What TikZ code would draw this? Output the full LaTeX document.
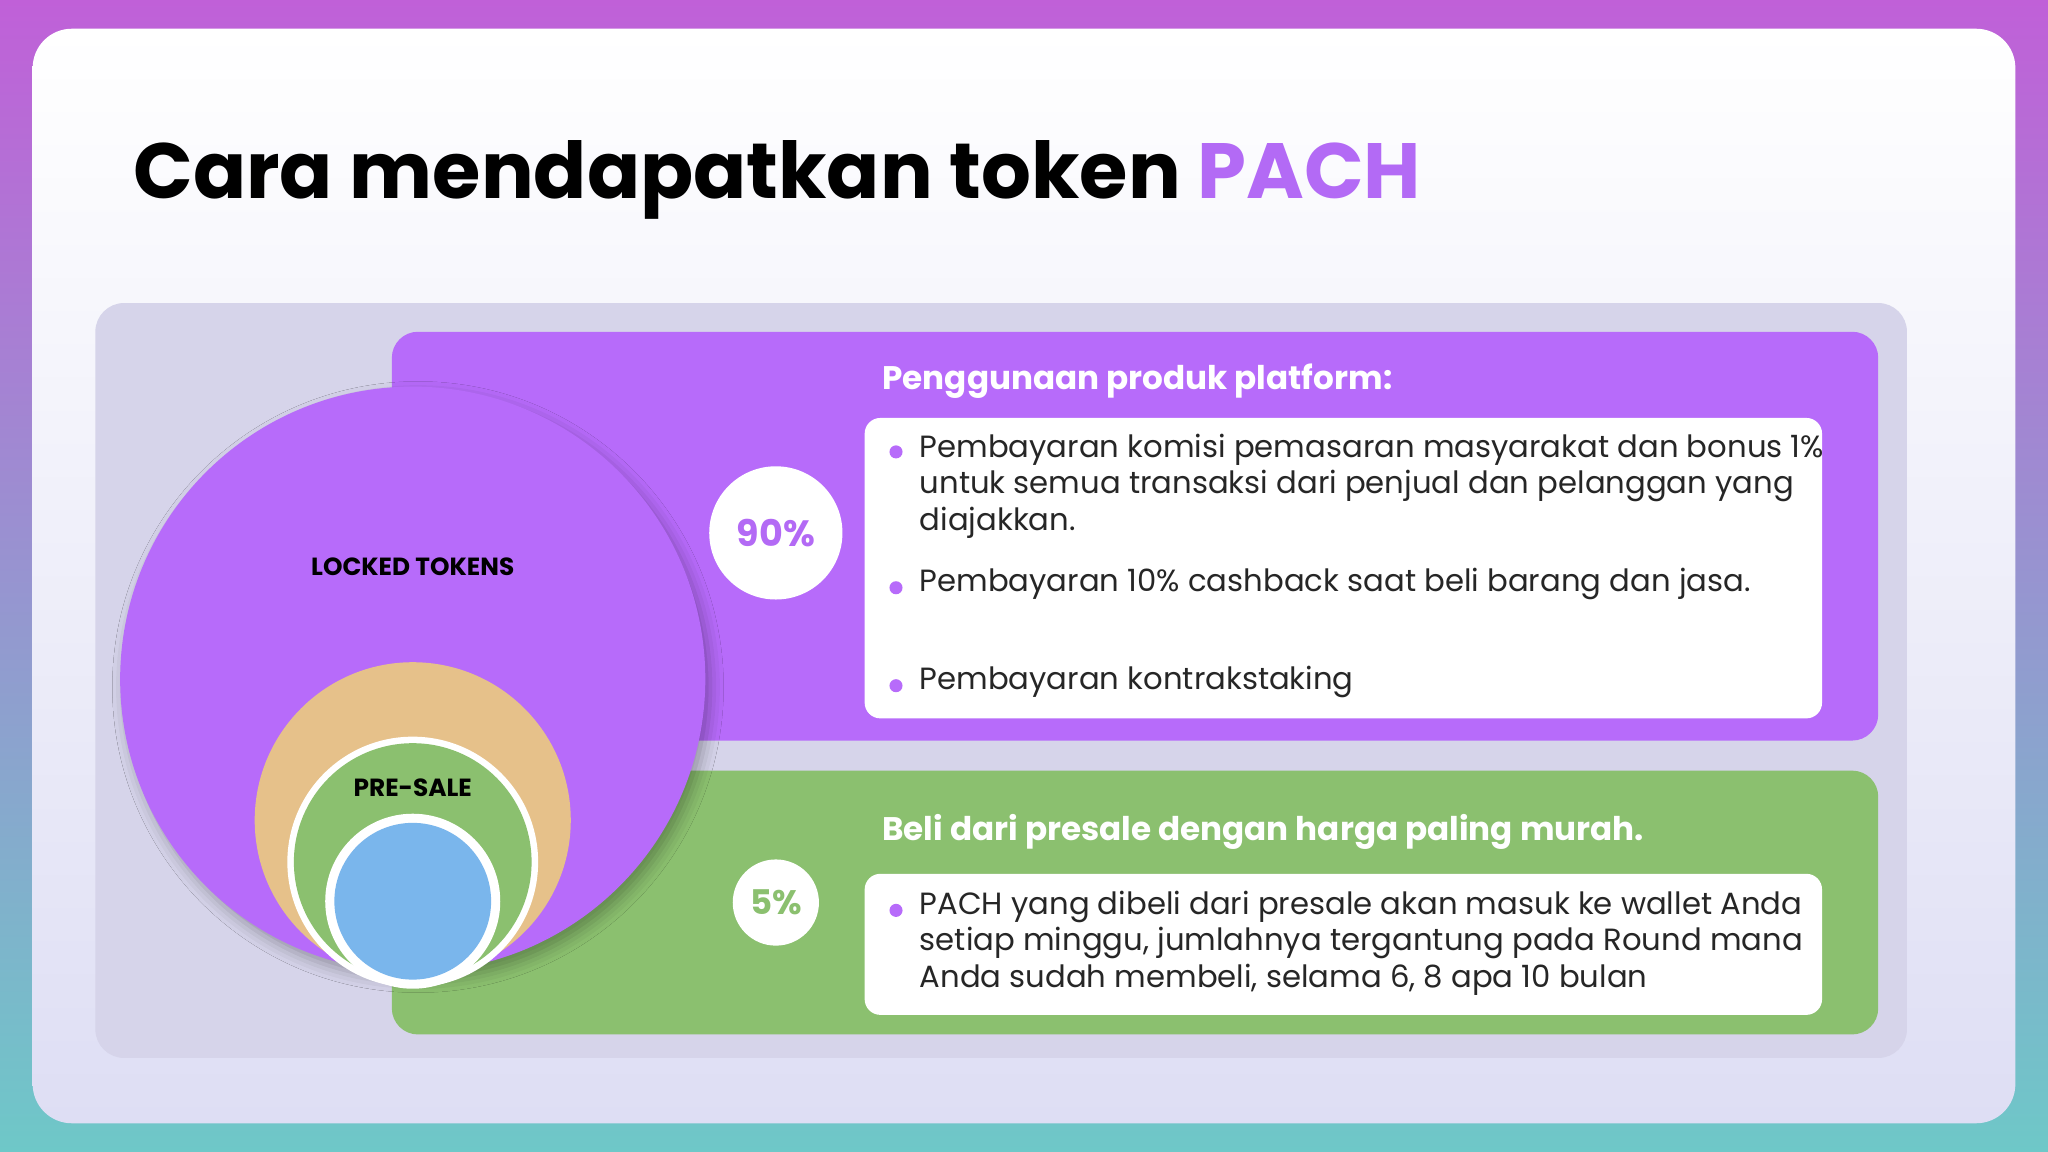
\documentclass[tikz,border=0pt]{standalone}
\usepackage{fontspec}
\setmainfont{Poppins}
\usetikzlibrary{shadows.blur}
\definecolor{pur}{HTML}{B76BFA}
\definecolor{tpur}{HTML}{B36AF5}
\definecolor{grn}{HTML}{8BC06F}
\definecolor{tan}{HTML}{E6C18A}
\definecolor{blu}{HTML}{7AB6EC}
\definecolor{panel}{HTML}{D6D4EA}
\tikzset{
 head/.style={anchor=west,text=white,font=\fontsize{25}{30}\selectfont\bfseries},
 item/.style={anchor=north west,text=black!85,font=\fontsize{23.5}{28}\selectfont,align=left,inner sep=0pt},
 dot/.style={circle,fill=pur,minimum size=10pt,inner sep=0pt},
 lab/.style={font=\fontsize{19}{22}\selectfont\bfseries,text=black}
}
\begin{document}
\begin{tikzpicture}[x=1pt,y=-1pt]
\useasboundingbox (0,0) rectangle (1568,882);
\shade[left color={rgb,255:red,192;green,96;blue,216},right color={rgb,255:red,110;green,200;blue,200},shading angle=0] (0,0) rectangle (1568,882);
\shade[top color=white,bottom color={rgb,255:red,222;green,222;blue,244},rounded corners=30pt] (25,22) rectangle (1543,860);
\node[anchor=base west,inner sep=0pt,font=\fontsize{60}{70}\selectfont\bfseries] (title) at (102,152) {Cara mendapatkan token \textcolor{tpur}{PACH}};
\fill[panel,rounded corners=22pt] (73,232) rectangle (1460,810);
\fill[pur,rounded corners=20pt] (300,254) rectangle (1438,567);
\fill[grn,rounded corners=20pt] (300,590) rectangle (1438,792);
\fill[white,rounded corners=12pt] (662,320) rectangle (1395,550);
\fill[white,rounded corners=12pt] (662,669) rectangle (1395,777);
\node[head] (h1) at (672,292) {Penggunaan produk platform:};
\node[head] (h2) at (672,637) {Beli dari presale dengan harga paling murah.};
\node[circle,fill=white,minimum size=102pt,text=tpur,font=\fontsize{28}{30}\selectfont\bfseries] (p90) at (594,408) {90\%};
\node[circle,fill=white,minimum size=66pt,inner sep=0pt,text=grn,font=\fontsize{26}{30}\selectfont\bfseries] (p5) at (594,691) {5\%};
\node[dot] (d1) at (686,346) {};
\node[item] (t1) at (704,332) {Pembayaran komisi pemasaran masyarakat dan bonus 1\%\\untuk semua transaksi dari penjual dan pelanggan yang\\diajakkan.};
\node[dot] (d2) at (686,450) {};
\node[item] (t2) at (704,435) {Pembayaran 10\% cashback saat beli barang dan jasa.};
\node[dot] (d3) at (686,525) {};
\node[item] (t3) at (704,510) {Pembayaran kontrakstaking};
\node[dot] (d4) at (686,697) {};
\node[item] (t4) at (704,682) {PACH yang dibeli dari presale akan masuk ke wallet Anda\\setiap minggu, jumlahnya tergantung pada Round mana\\Anda sudah membeli, selama 6, 8 apa 10 bulan};
\fill[pur,blur shadow={shadow xshift=4pt,shadow yshift=-6pt,shadow blur radius=10pt,shadow opacity=30}] (316,520) circle (224);
\fill[tan] (316,628) circle (121);
\fill[white] (316,660) circle (96);
\fill[grn] (316,660) circle (91);
\fill[white] (316,690) circle (67);
\fill[blu] (316,690) circle (60);
\node[lab] (lk) at (316,434) {LOCKED TOKENS};
\node[lab] (ps) at (316,603) {PRE-SALE};
\end{tikzpicture}
\end{document}
